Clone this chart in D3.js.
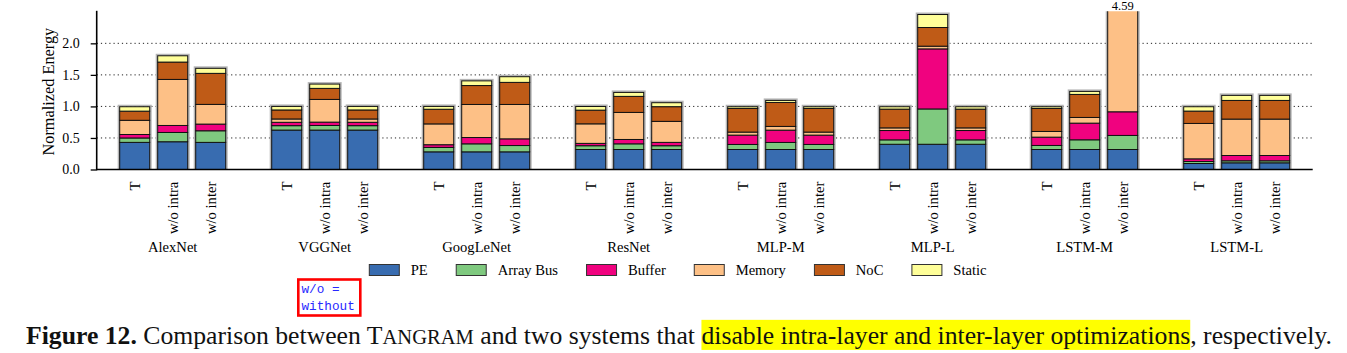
<!DOCTYPE html>
<html>
<head>
<meta charset="utf-8">
<script src="https://cdn.jsdelivr.net/npm/d3@7"></script>
<style>
  html, body { margin: 0; padding: 0; background: #fff; }
  svg { display: block; }
</style>
</head>
<body>
<svg id="chart" width="1347" height="353"></svg>
<script>
// ---------------- DATA ----------------
const groups = ["AlexNet", "VGGNet", "GoogLeNet", "ResNet", "MLP-M", "MLP-L", "LSTM-M", "LSTM-L"];
const variants = ["T", "w/o intra", "w/o inter"];
const components = ["PE", "Array Bus", "Buffer", "Memory", "NoC", "Static"];
const componentColors = ["#386cb0", "#7fc97f", "#f0027f", "#fdc086", "#bf5b17", "#ffff99"];

// values listed group by group, in variant order (T, w/o intra, w/o inter)
const peValues      = [0.430, 0.440, 0.430, 0.625, 0.625, 0.625, 0.280, 0.280, 0.280, 0.317, 0.317, 0.317, 0.317, 0.317, 0.317, 0.400, 0.400, 0.400, 0.317, 0.317, 0.317, 0.095, 0.106, 0.106];
const arrayBusValues= [0.070, 0.147, 0.184, 0.070, 0.073, 0.070, 0.070, 0.127, 0.100, 0.060, 0.090, 0.060, 0.080, 0.112, 0.080, 0.070, 0.560, 0.070, 0.064, 0.154, 0.223, 0.032, 0.032, 0.032];
const bufferValues  = [0.055, 0.111, 0.106, 0.053, 0.053, 0.053, 0.043, 0.100, 0.106, 0.037, 0.069, 0.053, 0.148, 0.195, 0.148, 0.148, 0.952, 0.148, 0.132, 0.264, 0.375, 0.042, 0.084, 0.084];
const memoryValues  = [0.225, 0.730, 0.312, 0.053, 0.360, 0.053, 0.330, 0.524, 0.545, 0.310, 0.429, 0.333, 0.048, 0.059, 0.048, 0.042, 0.043, 0.042, 0.090, 0.090, 3.325, 0.561, 0.577, 0.577];
const nocValues     = [0.145, 0.275, 0.492, 0.143, 0.175, 0.143, 0.232, 0.300, 0.350, 0.217, 0.254, 0.233, 0.375, 0.380, 0.375, 0.297, 0.296, 0.297, 0.365, 0.365, 0.300, 0.196, 0.296, 0.296];
const staticValues  = [0.070, 0.100, 0.080, 0.056, 0.068, 0.056, 0.045, 0.074, 0.090, 0.058, 0.063, 0.063, 0.027, 0.032, 0.027, 0.038, 0.206, 0.038, 0.027, 0.048, 0.050, 0.069, 0.080, 0.080];

const yTicks = [0.0, 0.5, 1.0, 1.5, 2.0];
const yTickLabels = ["0.0", "0.5", "1.0", "1.5", "2.0"];
const gridValues = [0.5, 1.0, 1.5, 2.0];
const yMax = 2.5;
const yLabel = "Normalized Energy";
const noteLines = ["w/o =", "without"];
const captionParts = [
  { t: "Figure 12.", bold: true },
  { t: " Comparison between " },
  { t: "T" },
  { t: "ANGRAM", sc: true },
  { t: " and two systems that " },
  { t: "disable intra-layer and inter-layer optimizations", hl: true },
  { t: ", respectively." }
];

// ---------------- BUILD ROWS ----------------
const seriesByComp = [peValues, arrayBusValues, bufferValues, memoryValues, nocValues, staticValues];
const rows = [];
groups.forEach((g, gi) => variants.forEach((v, vi) => {
  const r = { group: g, variant: v };
  components.forEach((c, ci) => { r[c] = seriesByComp[ci][gi * 3 + vi]; });
  rows.push(r);
}));

// ---------------- SCALES ----------------
const serif = "'Liberation Serif', 'Times New Roman', Times, serif";
const svg = d3.select("#chart");
const plotLeft = 96.7, plotRight = 1312.7, plotBottom = 169.5, plotTop = 11.8;

const x0 = d3.scaleBand().domain(groups).range([plotLeft, plotRight]).paddingInner(0).paddingOuter(0);
const x1 = d3.scaleBand().domain(variants).range([0, x0.bandwidth()]).paddingInner(8 / 38).paddingOuter(0.6053);
const y = d3.scaleLinear().domain([0, yMax]).range([plotBottom, plotTop]);
const color = d3.scaleOrdinal().domain(components).range(componentColors);

// ---------------- GRID ----------------
svg.append("g").selectAll("line").data(gridValues).join("line")
  .attr("x1", plotLeft).attr("x2", plotRight)
  .attr("y1", d => y(d)).attr("y2", d => y(d))
  .attr("stroke", "#222").attr("stroke-width", 1)
  .attr("stroke-dasharray", "1.2,3");

// ---------------- BARS ----------------
svg.append("defs").append("clipPath").attr("id", "plotclip")
  .append("rect").attr("x", plotLeft).attr("y", plotTop - 0.5)
  .attr("width", plotRight - plotLeft).attr("height", plotBottom - plotTop + 0.5);

const stacked = d3.stack().keys(components)(rows);
const barX = d => x0(d.data.group) + x1(d.data.variant);
const bw = x1.bandwidth();

const barsG = svg.append("g").attr("clip-path", "url(#plotclip)");
// grey halo behind each whole bar
barsG.append("g").selectAll("rect").data(rows).join("rect")
  .attr("x", d => x0(d.group) + x1(d.variant) - 1)
  .attr("y", d => y(d3.sum(components, c => d[c])) - 1)
  .attr("width", bw + 2)
  .attr("height", d => plotBottom - y(d3.sum(components, c => d[c])) + 1)
  .attr("fill", "none").attr("stroke", "#b5b5b5").attr("stroke-width", 2);

barsG.selectAll("g.layer").data(stacked).join("g").attr("class", "layer")
  .attr("fill", d => color(d.key))
  .selectAll("rect").data(d => d).join("rect")
  .attr("x", barX)
  .attr("y", d => y(d[1]))
  .attr("width", bw)
  .attr("height", d => Math.max(0, y(d[0]) - y(d[1])))
  .attr("stroke", "#111").attr("stroke-width", 1);

// label for bars exceeding the axis
rows.filter(r => d3.sum(components, c => r[c]) > yMax).forEach(r => {
  svg.append("text")
    .attr("x", x0(r.group) + x1(r.variant) + bw / 2)
    .attr("y", 9.6)
    .attr("text-anchor", "middle")
    .attr("font-family", serif).attr("font-size", 12.5)
    .text(d3.format(".2f")(d3.sum(components, c => r[c])));
});

// ---------------- AXES ----------------
const yAxis = d3.axisLeft(y).tickValues(yTicks).tickFormat((d, i) => yTickLabels[i])
  .tickSize(6).tickPadding(11).tickSizeOuter(0);
const yg = svg.append("g").attr("transform", `translate(${plotLeft},0)`).call(yAxis);
yg.select(".domain").remove();
yg.selectAll(".tick line").attr("stroke", "#000").attr("stroke-width", 1.3);
yg.selectAll(".tick text").attr("font-family", serif).attr("font-size", 14).attr("fill", "#000");
svg.append("line").attr("x1", plotLeft).attr("x2", plotLeft).attr("y1", plotTop - 1).attr("y2", plotBottom + 0.8)
  .attr("stroke", "#000").attr("stroke-width", 1.6);
svg.append("line").attr("x1", plotLeft).attr("x2", plotRight).attr("y1", plotBottom).attr("y2", plotBottom)
  .attr("stroke", "#000").attr("stroke-width", 1.6);

// y label
svg.append("text")
  .attr("transform", `translate(54,${(plotTop + plotBottom) / 2 + 1}) rotate(-90)`)
  .attr("text-anchor", "middle")
  .attr("font-family", serif).attr("font-size", 16.3)
  .text(yLabel);

// variant tick labels (rotated)
const tickG = svg.append("g");
rows.forEach(r => {
  tickG.append("text")
    .attr("transform", `translate(${x0(r.group) + x1(r.variant) + bw / 2 + 5},181.7) rotate(-90)`)
    .attr("text-anchor", "end")
    .attr("font-family", serif).attr("font-size", 14.6)
    .text(r.variant);
});
// group labels
svg.append("g").selectAll("text").data(groups).join("text")
  .attr("x", d => x0(d) + x0.bandwidth() / 2)
  .attr("y", 251.5)
  .attr("text-anchor", "middle")
  .attr("font-family", serif).attr("font-size", 14.6)
  .text(d => d);

// ---------------- LEGEND ----------------
const legend = svg.append("g");
let lx = 369.3;
components.forEach((c, i) => {
  legend.append("rect").attr("x", lx).attr("y", 264.5).attr("width", 30).attr("height", 11)
    .attr("fill", color(c)).attr("stroke", "#333").attr("stroke-width", 1);
  const t = legend.append("text").attr("x", lx + 41.4).attr("y", 275)
    .attr("font-family", serif).attr("font-size", 14.6).text(c);
  lx = lx + 41.4 + t.node().getComputedTextLength() + 28.5;
});

// ---------------- NOTE BOX ----------------
svg.append("rect").attr("x", 298.3).attr("y", 279.5).attr("width", 62).attr("height", 36)
  .attr("fill", "none").attr("stroke", "#ff0000").attr("stroke-width", 2.6);
noteLines.forEach((l, i) => {
  svg.append("text").attr("x", 301.5).attr("y", 293.3 + i * 16.7)
    .attr("font-family", "'Liberation Mono', 'DejaVu Sans Mono', monospace")
    .attr("font-size", 12.7).attr("fill", "#2828ff")
    .attr("xml:space", "preserve").text(l);
});

// ---------------- CAPTION ----------------
const capX = 26, capEnd = 1333, capY = 343.5;
const hlG = svg.append("g");
const cap = svg.append("text").attr("x", capX).attr("y", capY)
  .attr("font-family", serif).attr("xml:space", "preserve").attr("fill", "#111");
const spans = captionParts.map(p => cap.append("tspan")
  .attr("font-weight", p.bold ? "bold" : null).text(p.t));
function setSize(fs) {
  captionParts.forEach((p, i) => spans[i].attr("font-size", p.sc ? fs * 0.8 : fs));
}
setSize(22);
const w0 = cap.node().getComputedTextLength();
const fs = 22 * (capEnd - capX) / w0;
setSize(fs);
let cx = capX;
captionParts.forEach((p, i) => {
  const w = spans[i].node().getComputedTextLength();
  if (p.hl) {
    hlG.append("rect").attr("x", cx).attr("y", capY - fs * 0.92).attr("width", w).attr("height", fs * 1.17)
      .attr("fill", "#ffff00");
  }
  cx += w;
});
</script>
</body>
</html>
